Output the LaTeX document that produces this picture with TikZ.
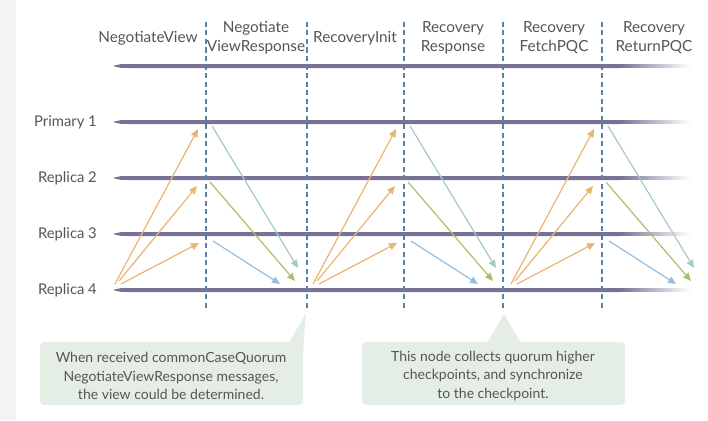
\documentclass[tikz,border=0pt]{standalone}
\usepackage{fontspec}
\setmainfont{Lato}
\usetikzlibrary{arrows.meta}
\definecolor{lane}{HTML}{7A7296}
\definecolor{vline}{HTML}{5B82A6}
\definecolor{strip}{HTML}{F4F4F4}
\definecolor{txt}{HTML}{555555}
\definecolor{boxfill}{HTML}{E5EEE5}
\definecolor{orangeA}{HTML}{E9B571}
\definecolor{tealA}{HTML}{A2CDC0}
\definecolor{greenA}{HTML}{A8C26C}
\definecolor{blueA}{HTML}{96BFDF}
\tikzset{
  lbl/.style={text=txt,font=\fontsize{15.3}{19}\selectfont,align=center,inner sep=0pt},
  rowlbl/.style={text=txt,font=\fontsize{14.8}{18}\selectfont,anchor=east,inner sep=0pt},
  boxtxt/.style={text=txt,font=\fontsize{14}{18.5}\selectfont,align=center,inner sep=0pt},
  vdash/.style={draw=vline,line width=2pt,dash pattern=on 5pt off 3.5pt},
  msg/.style={line width=1.2pt,-{Triangle[length=8pt,width=7pt]}},
  oarrow/.style={msg,draw=orangeA,fill=orangeA},
  tarrow/.style={msg,draw=tealA,fill=tealA},
  garrow/.style={msg,draw=greenA,fill=greenA},
  barrow/.style={msg,draw=blueA,fill=blueA},
  callout/.style={fill=boxfill,draw=none},
}
\begin{document}
\begin{tikzpicture}[x=1pt,y=-1pt]
\useasboundingbox (0,0) rectangle (708,420);
\fill[strip] (0,0) rectangle (16,420);

% lanes
\foreach \y in {66,122,178,234,290}{
  \fill[lane] (113,\y) .. controls (120,\y-2) .. (130,\y-2) -- (620,\y-2) -- (620,\y+2) -- (130,\y+2) .. controls (120,\y+2) .. (113,\y) -- cycle;
  \foreach \k in {0,...,34}{
    \pgfmathsetmacro{\pc}{100-\k*100/35}
    \pgfmathsetmacro{\xa}{620+\k*2}
    \pgfmathsetmacro{\xb}{622.5+\k*2}
    \fill[lane!\pc!white] (\xa,\y-2) rectangle (\xb,\y+2);
  }
}

% vertical dashed phase lines
\foreach \i/\x in {1/206,2/307,3/404,4/503,5/602}{
  \coordinate (vt\i) at (\x,22);
  \coordinate (vb\i) at (\x,311);
  \draw[vdash] (vt\i) -- (vb\i);
}

% header labels
\node[lbl] (h1) at (148,38) {NegotiateView};
\node[lbl] (h2) at (256,38) {Negotiate\\ViewResponse};
\node[lbl] (h3) at (355,38) {RecoveryInit};
\node[lbl] (h4) at (453,38) {Recovery\\Response};
\node[lbl] (h5) at (554,38) {Recovery\\FetchPQC};
\node[lbl] (h6) at (654,38) {Recovery\\ReturnPQC};

% row labels
\node[rowlbl] (r1) at (97,122) {Primary 1};
\node[rowlbl] (r2) at (97,178) {Replica 2};
\node[rowlbl] (r3) at (97,234) {Replica 3};
\node[rowlbl] (r4) at (97,290) {Replica 4};

% messages
\foreach \p/\x in {1/206,2/404,3/602}{
  \coordinate (sa\p) at (\x-91,284);
  \coordinate (sb\p) at (\x-87,281);
  \coordinate (sc\p) at (\x-85,284);
  \coordinate (ta\p) at (\x-8,129);
  \coordinate (tb\p) at (\x-9,186);
  \coordinate (tc\p) at (\x-7,243);
  \draw[oarrow] (sa\p) -- (ta\p);
  \draw[oarrow] (sb\p) -- (tb\p);
  \draw[oarrow] (sc\p) -- (tc\p);
  \coordinate (ua\p) at (\x+6,126);
  \coordinate (ub\p) at (\x+4,182);
  \coordinate (uc\p) at (\x+7,241);
  \coordinate (wa\p) at (\x+92,268);
  \coordinate (wb\p) at (\x+89,281);
  \coordinate (wc\p) at (\x+74,284);
  \draw[tarrow] (ua\p) -- (wa\p);
  \draw[garrow] (ub\p) -- (wb\p);
  \draw[barrow] (uc\p) -- (wc\p);
}

% callouts
\fill[callout,rounded corners=4pt] (40,342) rectangle (303,405);
\fill[callout] (289,343) -- (306,313) -- (303,352) -- cycle;
\node[boxtxt] (c1) at (171,376) {When received commonCaseQuorum\\NegotiateViewResponse messages,\\the view could be determined.};

\fill[callout,rounded corners=4pt] (362,342) rectangle (625,405);
\fill[callout] (487,343) -- (504,314) -- (521,343) -- cycle;
\node[boxtxt] (c2) at (493,376) {This node collects quorum higher\\checkpoints, and synchronize\\to the checkpoint.};
\end{tikzpicture}
\end{document}
